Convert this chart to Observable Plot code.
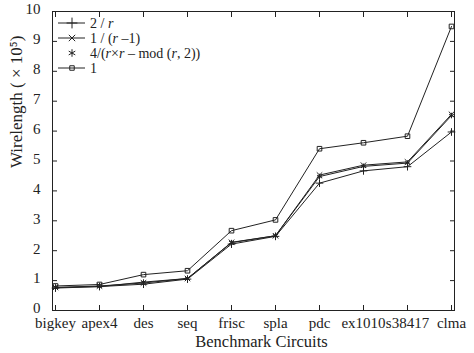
<!DOCTYPE html>
<html><head><meta charset="utf-8">
<script src="https://cdn.jsdelivr.net/npm/d3@7"></script>
<script src="https://cdn.jsdelivr.net/npm/@observablehq/plot@0.6"></script>
<style>
html,body{margin:0;padding:0;background:#fff;}
svg{font-family:"Liberation Serif","DejaVu Serif",serif;}
</style></head>
<body><div id="chart"></div>
<script>
const circuits = ["bigkey","apex4","des","seq","frisc","spla","pdc","ex1010","s38417","clma"];
const s2r   = [0.75,0.80,0.88,1.05,2.22,2.48,4.26,4.67,4.81,5.97];
const s1r1  = [0.77,0.82,0.92,1.07,2.28,2.50,4.53,4.86,4.97,6.56];
const s4rr  = [0.77,0.80,0.95,1.07,2.27,2.50,4.48,4.82,4.93,6.52];
const s1    = [0.82,0.87,1.20,1.33,2.67,3.03,5.41,5.61,5.83,9.50];
const seriesNames = ["2/r","1/(r-1)","4/(rxr-mod)","1"];
const seriesVals = [s2r,s1r1,s4rr,s1];
const symbols = ["plus","times","asterisk","square"];
const yTicks = [0,1,2,3,4,5,6,7,8,9,10];

const data = [];
seriesNames.forEach((n,i)=>circuits.forEach((c,j)=>data.push({series:n, circuit:c, value:seriesVals[i][j], sym:symbols[i]})));

const ink = "#222";
const chart = Plot.plot({
  width:474, height:353,
  marginLeft:52, marginRight:20, marginTop:11, marginBottom:43,
  style:{fontFamily:"Liberation Serif, serif", fontSize:"15px", color:ink, background:"#fff"},
  x:{type:"point", domain:circuits, padding:0},
  y:{domain:[0,10]},
  marks:[
    Plot.frame({stroke:ink}),
    Plot.axisX({anchor:"bottom", tickSize:-5, tickPadding:12, label:null, fontSize:15}),
    Plot.axisX({anchor:"top", tickSize:-5, tickFormat:()=>"", label:null}),
    Plot.axisY({anchor:"left", ticks:yTicks, tickSize:-5, tickFormat:()=>"", label:null}),
    Plot.axisY({anchor:"left", ticks:yTicks, tickSize:0, tickPadding:12, dy:-2, label:null, fontSize:15}),
    Plot.axisY({anchor:"right", ticks:yTicks, tickSize:-5, tickFormat:()=>"", label:null}),
    Plot.line(data, {x:"circuit", y:"value", z:"series", stroke:ink, strokeWidth:1}),
    Plot.dot(data, {x:"circuit", y:"value", symbol:"sym", r:2.6, stroke:ink, strokeWidth:1, fill:"none"}),
    Plot.text(["Benchmark Circuits"], {frameAnchor:"bottom", dx:8, dy:36, fontSize:16.5, fill:ink}),
    Plot.text(["Wirelength ( × 10⁵)"], {frameAnchor:"left", dx:-36, dy:7, rotate:-90, fontSize:17, fill:ink})
  ]
});
document.getElementById("chart").appendChild(chart);

// legend
const svg = d3.select(chart);
const lg = svg.append("g").attr("font-size",14).attr("fill",ink).attr("text-anchor","start");
const legendItems = [
  {kind:"plus", line:true, parts:[["2 / ",false],["r",true]]},
  {kind:"x", line:true, parts:[["1 / (",false],["r",true],[" –1)",false]]},
  {kind:"ast", line:false, parts:[["4/(",false],["r",true],["×",false],["r",true],[" – mod (",false],["r",true],[", 2))",false]]},
  {kind:"sq", line:true, parts:[["1",false]]}
];
legendItems.forEach((it,i)=>{
  const y = 23 + i*15;
  if(it.line) lg.append("line").attr("x1",58).attr("x2",85).attr("y1",y).attr("y2",y).attr("stroke",ink).attr("stroke-width",1);
  const symGen = it.kind === "x" ? d3.symbol(d3.symbolX, 28) :
                 it.kind === "plus" ? d3.symbol(d3.symbolPlus, 40) :
                 it.kind === "ast" ? d3.symbol(d3.symbolAsterisk, 40) : d3.symbol(d3.symbolSquare, 20);
  lg.append("path").attr("d",symGen()).attr("transform",`translate(72,${y})`).attr("fill","none").attr("stroke",ink).attr("stroke-width",1);
  const t = lg.append("text").attr("x",90).attr("y",y).attr("dy","0.35em");
  it.parts.forEach(([s,it2])=>t.append("tspan").text(s).attr("font-style",it2?"italic":null));
});
</script></body></html>
